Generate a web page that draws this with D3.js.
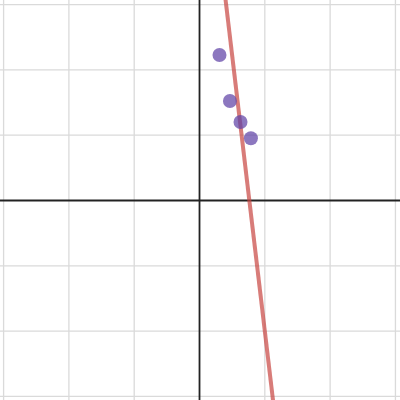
<!DOCTYPE html>
<html><head><meta charset="utf-8">
<script src="https://cdn.jsdelivr.net/npm/d3@7"></script>
<style>html,body{margin:0;padding:0;background:#fff;}svg{display:block;}</style>
</head><body>
<script>
// Data
const pointsX = [0.306, 0.466, 0.628, 0.787];
const pointsY = [2.228, 1.524, 1.202, 0.953];
const lineSlope = -8.44;
const lineXIntercept = 0.763;
const gridTicks = [-3, -2, -1, 1, 2, 3];

const W = 400, H = 400;
const x = d3.scaleLinear().domain([-3.055, 3.07]).range([0, W]);
const y = d3.scaleLinear().domain([-3.055, 3.07]).range([H, 0]);

const svg = d3.select("body").append("svg").attr("width", W).attr("height", H);

// grid
svg.append("g").selectAll("line.v").data(gridTicks).join("line")
  .attr("x1", d => x(d)).attr("x2", d => x(d)).attr("y1", 0).attr("y2", H)
  .attr("stroke", "#dadada").attr("stroke-width", 1.3);
svg.append("g").selectAll("line.h").data(gridTicks).join("line")
  .attr("y1", d => y(d)).attr("y2", d => y(d)).attr("x1", 0).attr("x2", W)
  .attr("stroke", "#dadada").attr("stroke-width", 1.3);

// axes
svg.append("line").attr("x1", x(0)).attr("x2", x(0)).attr("y1", 0).attr("y2", H)
  .attr("stroke", "#222").attr("stroke-width", 1.8);
svg.append("line").attr("y1", y(0)).attr("y2", y(0)).attr("x1", 0).attr("x2", W)
  .attr("stroke", "#222").attr("stroke-width", 1.8);

// regression line
const f = xv => lineSlope * (xv - lineXIntercept);
const yTop = 3.2, yBot = -3.2;
const lx = [lineXIntercept + yTop / lineSlope, lineXIntercept + yBot / lineSlope];
svg.append("path")
  .datum(lx.map(v => [v, f(v)]))
  .attr("d", d3.line().x(d => x(d[0])).y(d => y(d[1])))
  .attr("stroke", "#c74440").attr("stroke-opacity", 0.7)
  .attr("stroke-width", 4).attr("fill", "none");

// points
svg.append("g").selectAll("circle").data(pointsX.map((v, i) => [v, pointsY[i]])).join("circle")
  .attr("cx", d => x(d[0])).attr("cy", d => y(d[1])).attr("r", 7)
  .attr("fill", "#6042a6").attr("fill-opacity", 0.72);
</script>
</body></html>
